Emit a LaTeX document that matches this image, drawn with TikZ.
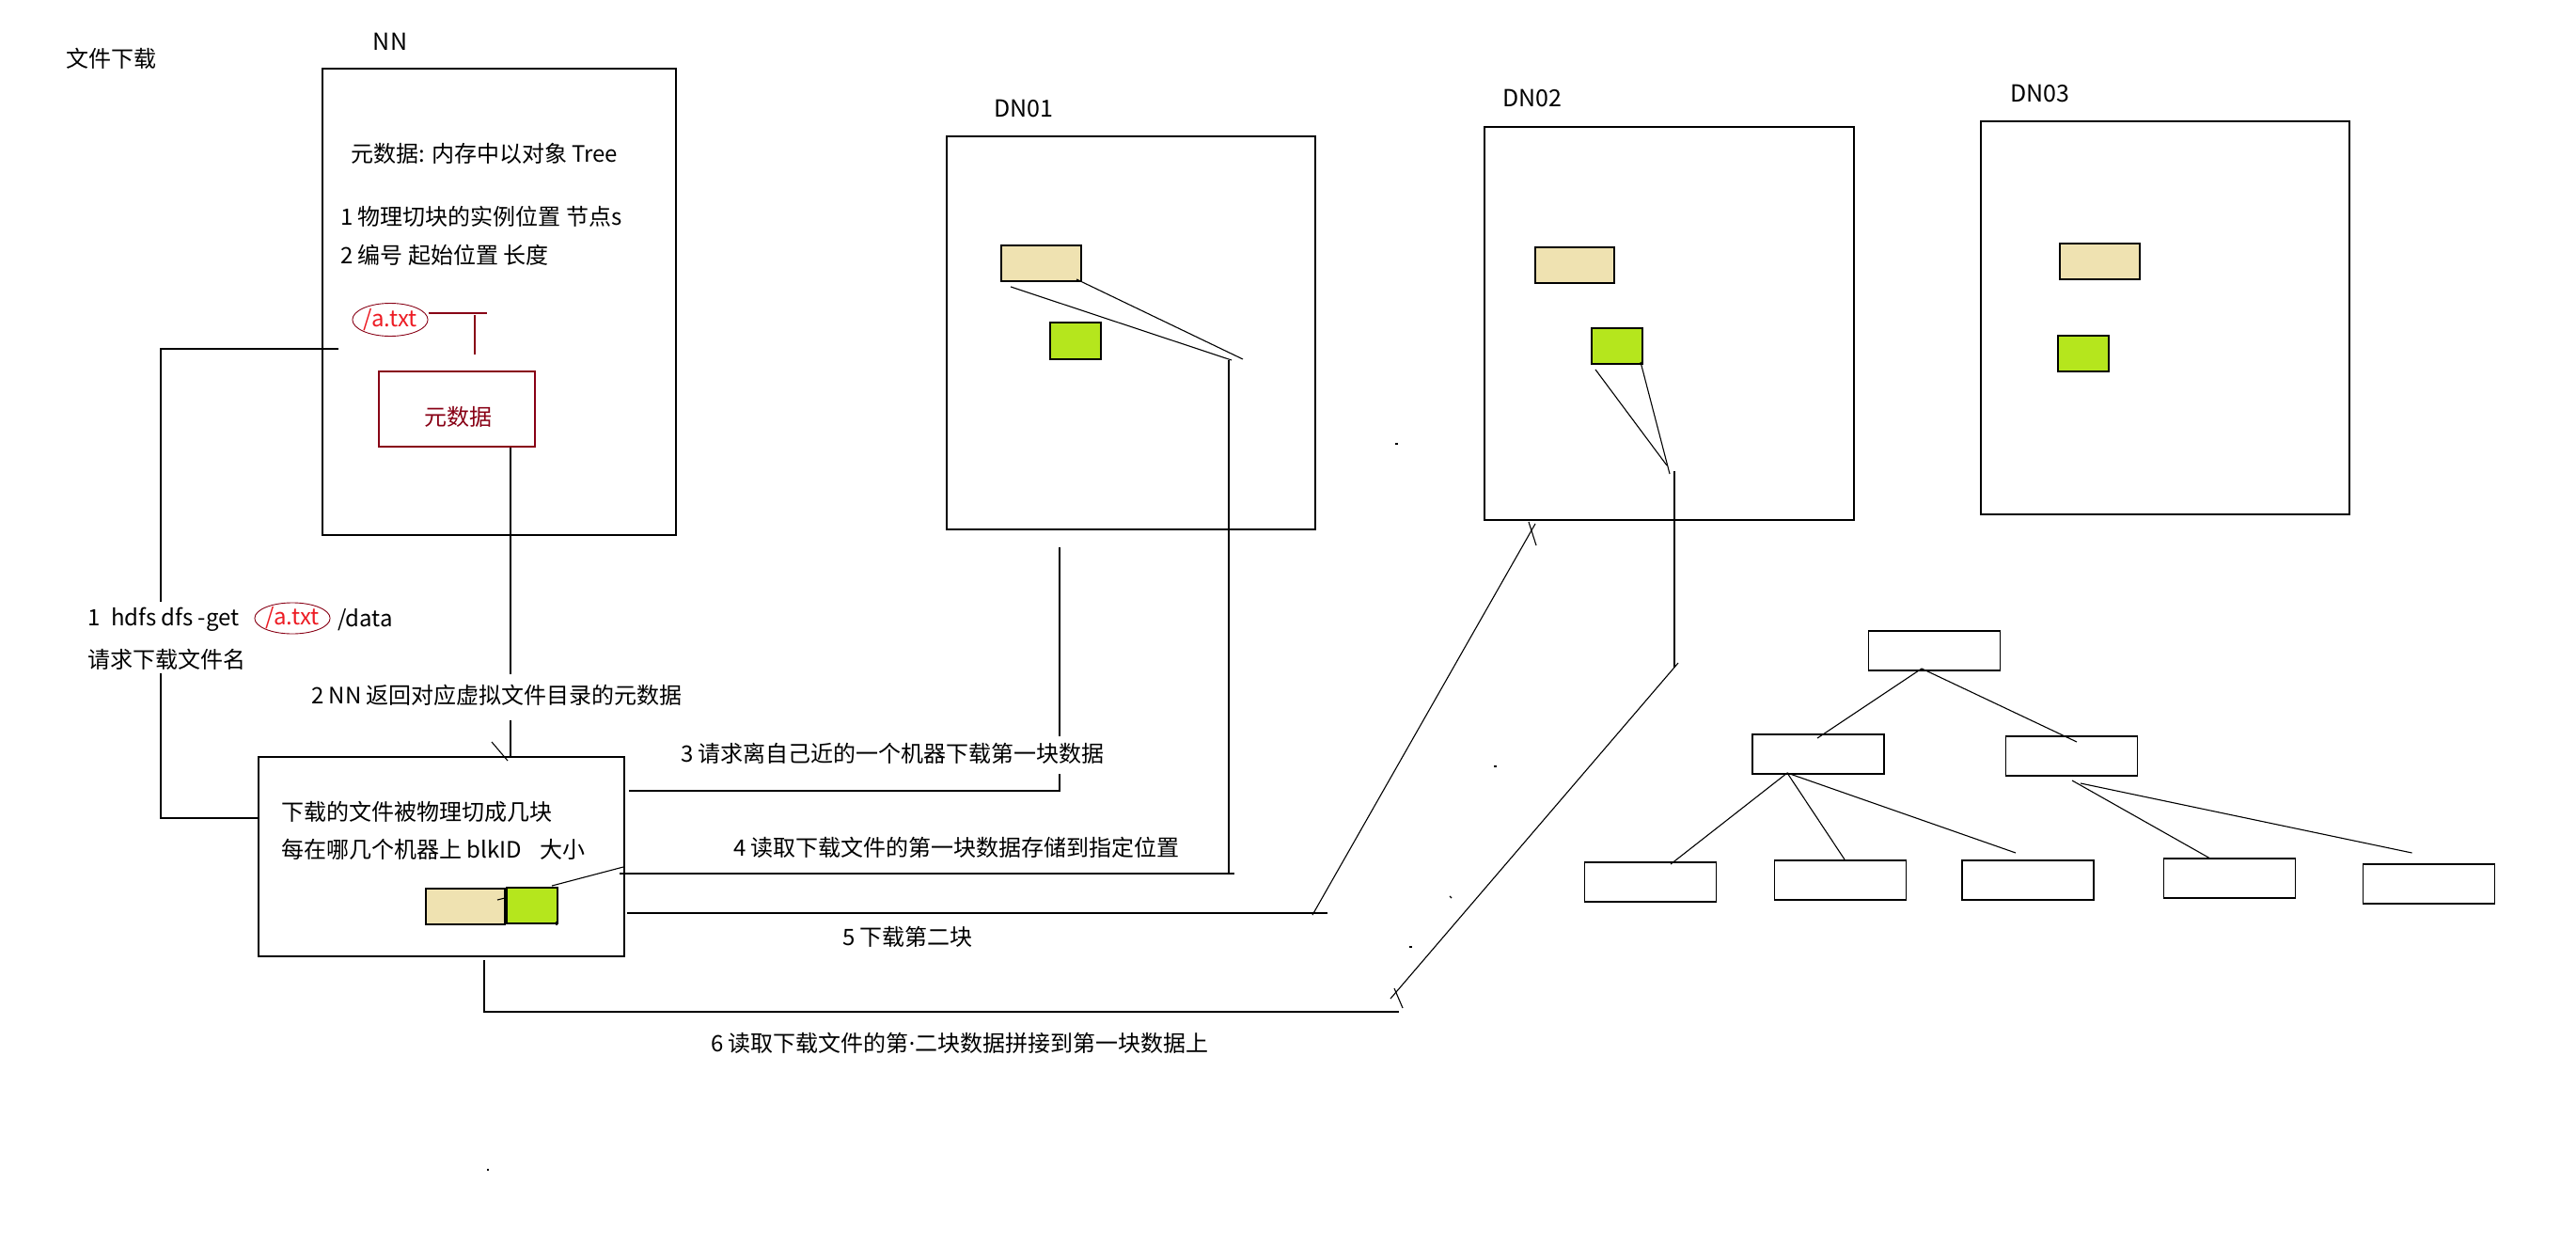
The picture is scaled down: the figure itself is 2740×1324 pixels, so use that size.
\documentclass[tikz,border=0pt]{standalone}
\usepackage{fontspec}
\setmainfont{Noto Sans CJK SC}
\newfontfamily\latinfont{Noto Sans}
\usetikzlibrary{shapes.geometric}
\definecolor{beige}{HTML}{EFE2B1}
\definecolor{lime}{HTML}{B5E61D}
\definecolor{darkred}{HTML}{880015}
\definecolor{pred}{HTML}{ED1C24}
\begin{document}
\begin{tikzpicture}[x=1pt,y=-1pt,
  sz/.style 2 args={minimum width=#1,minimum height=#2},
  box/.style={draw=black,line width=1.6pt,inner sep=0pt,outer sep=0pt},
  blkb/.style={box,fill=beige,line width=1.3pt},
  blkg/.style={box,fill=lime,line width=1.3pt},
  tbox/.style={box,line width=1.4pt,sz={140}{42}},
  txt/.style={font=\fontsize{24}{28}\selectfont,inner sep=0pt,anchor=west},
  lbl/.style={font=\fontsize{25}{30}\selectfont,inner sep=0pt},
  conn/.style={draw=black,line width=1.3pt},
  thinl/.style={draw=black,line width=1.1pt}]
\fill[white] (0,0) rectangle (2740,1324);
\useasboundingbox (0,0) rectangle (2740,1324);

% title
\node[txt] (title) at (70,62) {文件下载};

% NameNode
\node[lbl] (nnlbl) at (415,44) {NN};
\node[box,sz={376}{496}] (nn) at (531,321) {};
\node[txt] (nn1) at (373,163) {元数据: 内存中以对象 Tree};
\node[txt] (nn2) at (362,230) {1 物理切块的实例位置 节点s};
\node[txt] (nn3) at (362,271) {2 编号 起始位置 长度};
\node[ellipse,draw=darkred,line width=0.9pt,minimum width=80pt,minimum height=35pt,inner sep=0pt,text=pred,font=\fontsize{24}{28}\selectfont] (afile) at (415,340) {/a.txt};
\node[draw=darkred,line width=1.3pt,sz={166}{80},inner sep=0pt] (meta) at (486,435) {};
\node[font=\fontsize{24}{28}\selectfont,text=darkred,inner sep=0pt] (metatxt) at (487,443) {元数据};
\coordinate (ar1) at (518,333);
\coordinate (ar2) at (505,377);
\draw[draw=darkred,line width=1.1pt] (afile.east |- ar1) -- (ar1);
\draw[draw=darkred,line width=1.1pt] (ar2 |- afile.north east) ++(0,8) -- (ar2);

% DataNodes
\node[lbl] (dn1lbl) at (1089,116) {DN01};
\node[box,sz={392}{418}] (dn1) at (1203,354) {};
\node[blkb,sz={85}{38}] (dn1b) at (1107.5,280) {};
\node[blkg,sz={54}{39}] (dn1g) at (1144,362.5) {};

\node[lbl] (dn2lbl) at (1630,105) {DN02};
\node[box,sz={393}{418}] (dn2) at (1775.5,344) {};
\node[blkb,sz={84}{38}] (dn2b) at (1675,282) {};
\node[blkg,sz={54}{38}] (dn2g) at (1720,368) {};

\node[lbl] (dn3lbl) at (2170,100) {DN03};
\node[box,sz={392}{418}] (dn3) at (2303,338) {};
\node[blkb,sz={85}{38}] (dn3b) at (2233.5,278) {};
\node[blkg,sz={54}{38}] (dn3g) at (2216,376) {};

% client
\node[box,sz={389}{212}] (client) at (469.5,911) {};
\node[txt] (cl1) at (299,863) {下载的文件被物理切成几块};
\node[txt] (cl2) at (299,903) {每在哪几个机器上 blkID\hspace*{19pt}大小};
\node[blkb,sz={84}{38}] (clb) at (495,964) {};
\node[blkg,sz={54}{38}] (clg) at (566,963) {};
\draw[thinl] (587,942) -- (663,922);
\draw[thinl] (529,957) -- (537,955);
\draw[thinl] (592,980) -- (592,984);

% step 1
\coordinate (c1s) at (360,371);
\coordinate (c1a) at (171,640);
\coordinate (c1b) at (171,716);
\coordinate (c1c) at (171,870);
\draw[conn] (c1s) -- (c1a |- c1s) -- (c1a);
\draw[conn] (c1b) -- (c1c) -- (c1c -| client.west);
\node[txt] (s1) at (93.5,659) {1\hspace*{11pt}hdfs dfs -get};
\node[ellipse,draw=darkred,line width=0.9pt,minimum width=80pt,minimum height=31pt,inner sep=0pt,text=pred,font=\fontsize{24}{28}\selectfont] (afile2) at (311,657.5) {/a.txt};
\node[txt] (s1b) at (359,659) {/data};
\node[txt] (s1c) at (93.5,701) {请求下载文件名};

% step 2
\coordinate (c2a) at (543,717);
\coordinate (c2b) at (543,766);
\draw[conn] (meta.south -| c2a) -- (c2a);
\draw[conn] (c2b) -- (c2b |- client.north);
\draw[thinl] (523,789) -- (540,809);
\node[txt] (s2) at (331,739) {2 NN 返回对应虚拟文件目录的元数据};

% step 3
\coordinate (c3a) at (1127,582);
\coordinate (c3b) at (1127,783);
\coordinate (c3c) at (1127,823);
\coordinate (c3d) at (1127,841);
\coordinate (c3e) at (669,841);
\draw[conn] (c3a) -- (c3b);
\draw[conn] (c3c) -- (c3d) -- (c3e);
\node[txt] (s3) at (724,801) {3 请求离自己近的一个机器下载第一块数据};

% step 4
\coordinate (c4a) at (659,929);
\coordinate (c4b) at (1313,929);
\coordinate (c4c) at (1307,929);
\coordinate (c4d) at (1307,383);
\draw[conn] (c4a) -- (c4b);
\draw[conn] (c4c) -- (c4d);
\draw[thinl] (1075,305) -- (1310,383);
\draw[thinl] (1145,297) -- (1322,382);
\node[txt] (s4) at (780,901) {4 读取下载文件的第一块数据存储到指定位置};

% step 5
\coordinate (c5a) at (667,971);
\coordinate (c5b) at (1412,971);
\coordinate (c5c) at (1396,973);
\coordinate (c5d) at (1633,557);
\draw[conn] (c5a) -- (c5b);
\draw[thinl] (c5c) -- (c5d);
\draw[thinl] (1626,555) -- (1634,580);
\node[txt] (s5) at (896,996) {5 下载第二块};

% step 6
\coordinate (c6a) at (515,1021);
\coordinate (c6b) at (515,1076);
\coordinate (c6c) at (1488,1076);
\coordinate (c6d) at (1479,1062);
\coordinate (c6e) at (1785,705);
\coordinate (c6f) at (1781,710);
\coordinate (c6g) at (1781,501);
\draw[conn] (c6a) -- (c6b) -- (c6c);
\draw[thinl] (c6d) -- (c6e);
\draw[conn] (c6f) -- (c6g);
\draw[thinl] (1483,1051) -- (1492,1072);
\draw[thinl] (1697,393) -- (1773,495);
\draw[thinl] (1745,385) -- (1776,504);
\node[txt] (s6) at (756,1109) {6 读取下载文件的第{\latinfont ·}二块数据拼接到第一块数据上};

% tree
\node[tbox] (root) at (2057.5,692) {};
\node[tbox] (ml) at (1934,802) {};
\node[tbox] (mr) at (2203.5,804) {};
\node[tbox] (l1) at (1755.5,938) {};
\node[tbox] (l2) at (1957.5,936) {};
\node[tbox] (l3) at (2157,936) {};
\node[tbox] (l4) at (2371.6,934) {};
\node[tbox] (l5) at (2583.5,940) {};
\coordinate (r0) at (2044,711);
\coordinate (m0) at (1901,822);
\coordinate (n0) at (2204,830);
\coordinate (n1) at (2213,833);
\draw[thinl] (r0) -- (1933,785);
\draw[thinl] (r0) -- (2209,789);
\draw[thinl] (m0) -- (1777,919);
\draw[thinl] (m0) -- (1962,914);
\draw[thinl] (m0) -- (2144,907);
\draw[thinl] (n0) -- (2351,913);
\draw[thinl] (n1) -- (2565.5,907);

% stray marks
\draw[thinl] (1484,472) -- (1487,472);
\draw[thinl] (1589,815) -- (1592,815);
\draw[thinl] (1542,953) -- (1544,955);
\draw[thinl] (1499,1007) -- (1502,1007);
\draw[thinl] (519,1243) -- (519,1245);
\end{tikzpicture}
\end{document}
